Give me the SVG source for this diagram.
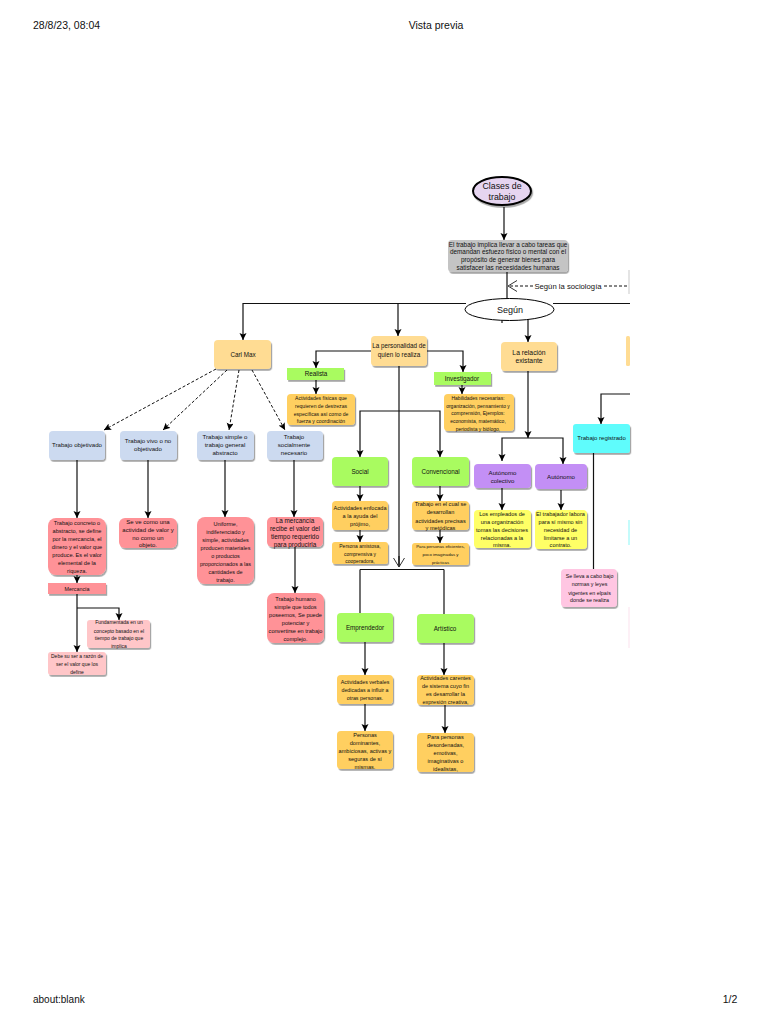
<svg xmlns="http://www.w3.org/2000/svg" width="768" height="1024" viewBox="0 0 768 1024">
<defs>
<filter id="sh" x="-20%" y="-20%" width="150%" height="150%"><feDropShadow dx="1.2" dy="1.8" stdDeviation="0.7" flood-color="#000" flood-opacity="0.35"/></filter>
<marker id="a" markerUnits="userSpaceOnUse" markerWidth="8" markerHeight="8" refX="7" refY="3.5" orient="auto"><path d="M0 0L7 3.500L0 7L1.500 3.500Z" fill="#000"/></marker>
<marker id="o" markerUnits="userSpaceOnUse" markerWidth="12" markerHeight="14" refX="10" refY="6" orient="auto"><path d="M1 0.500L10 6L1 11.500" fill="none" stroke="#333" stroke-width="1"/></marker>
</defs>
<style>
text{font-family:"Liberation Sans",Arial,sans-serif;fill:#111;text-anchor:middle}
.h{font-size:10.5px}.m{font-size:6.3px}.n{font-size:6.1px}.s{font-size:5.6px}.s5{font-size:5.1px}.xs{font-size:5px}.x4{font-size:4.3px}
.b{filter:url(#sh);stroke:none}
.or{fill:#ffdc93}.bl{fill:#ccdaf0}.re{fill:#ff9297}.pk{fill:#ffc6c8}.gr{fill:#a9fb60}.go{fill:#ffcf60}.pu{fill:#c38ff5}.ye{fill:#ffff66}.cy{fill:#5ffcfc}.mg{fill:#ffc6e2}.gy{fill:#c4c4c4}
#conn path{fill:none;stroke:#111;stroke-width:1.2;marker-end:url(#a)}
#conn path.p{marker-end:none}
#conn path.d{stroke-dasharray:3 2;stroke-width:1}
#conn path.op{marker-end:url(#o)}
</style>
<rect width="768" height="1024" fill="#fff"/>
<text class="h" x="33" y="29" style="text-anchor:start">28/8/23, 08:04</text>
<text class="h" x="436" y="29">Vista previa</text>
<text class="h" x="33" y="1003" style="text-anchor:start;font-size:10px">about:blank</text>
<text class="h" x="730" y="1003">1/2</text>
<g id="conn">
<path d="M504 207V240"/>
<path class="p" d="M507 272V299"/>
<path class="d op" d="M533 286H508"/>
<path class="d p" d="M604 286H628"/>
<path class="p" d="M553 303.500H630"/>
<path d="M466 303.500H243V340"/>
<path d="M398 303.500V336"/>
<path d="M528 319V342"/>
<path class="p" d="M502 320V323"/>
<path d="M371 351H316V368"/>
<path d="M427 351H463V372"/>
<path d="M316 380V394"/>
<path d="M462 385V394"/>
<path class="p" d="M399 366V566"/>
<path class="op" d="M399 556V567"/>
<path d="M399 411H360V457"/>
<path d="M399 411H440V457"/>
<path class="p" d="M360 569.500H444"/>
<path class="p" d="M360 569.500V613"/>
<path class="p" d="M444 569.500V614"/>
<path d="M360 486V501"/>
<path d="M360 530V542"/>
<path d="M440 486V501"/>
<path d="M440 530V543"/>
<path d="M365 642V675"/>
<path d="M365 704V731"/>
<path d="M444 643V675"/>
<path d="M445 705V733"/>
<path d="M528 371V438"/>
<path d="M528 438H502V461"/>
<path d="M528 438H563V464"/>
<path d="M502 488V510"/>
<path d="M561 490V510"/>
<path d="M630 394H601V424"/>
<path class="p" d="M593.500 453V569"/>
<path class="d" d="M216 369L104 430"/>
<path class="d" d="M227 370L163 430"/>
<path class="d" d="M239 370L229 430"/>
<path class="d" d="M252 370L285 430"/>
<path d="M77 460V518"/>
<path d="M148 460V518"/>
<path d="M225 460V517"/>
<path d="M294 460V517"/>
<path d="M77 575V583"/>
<path class="p" d="M77 594V608"/>
<path d="M77 608H119V620"/>
<path d="M77 608V652"/>
<path d="M295 547V593"/>
</g>
<g id="n-clases"><ellipse cx="502" cy="191" rx="29" ry="14" fill="#e6d5f0" stroke="#000" stroke-width="2" style="filter:url(#sh)"/><text x="502" y="189" style="font-size:8.8px">Clases de</text><text x="502" y="200" style="font-size:8.8px">trabajo</text></g>
<g id="n-intro"><rect class="b gy" x="448" y="240" width="120" height="32" rx="4"/><text x="508" y="246.500" style="font-size:6.4px">El trabajo implica llevar a cabo tareas que</text><text x="508" y="254" style="font-size:6.4px">demandan esfuezo físico o mental con el</text><text x="508" y="261.500" style="font-size:6.4px">propósito de generar bienes para</text><text x="508" y="269.500" style="font-size:6.4px">satisfacer las necesidades humanas</text></g>
<g id="l-soc"><text x="568" y="289" style="font-size:7.7px">Según la sociología</text></g>
<g id="n-segun"><ellipse cx="509.500" cy="309.500" rx="44.500" ry="11" fill="#fff" stroke="#000" stroke-width="1"/><text x="510" y="312.700" style="font-size:9px">Según</text></g>
<g id="n-carl"><rect class="b or" x="214" y="340" width="57" height="29" rx="4"/><text class="m" x="243" y="356.500">Carl Max</text></g>
<g id="n-pers"><rect class="b or" x="371" y="336" width="56" height="30" rx="4"/><text class="m" x="399" y="348">La personalidad de</text><text class="m" x="399" y="357">quien lo realiza</text></g>
<g id="n-rel"><rect class="b or" x="501" y="342" width="56" height="29" rx="4"/><text x="529" y="354.500" style="font-size:6.8px">La relación</text><text x="529" y="362.500" style="font-size:6.8px">existante</text></g>
<g id="n-edge0"><rect x="628" y="270" width="2" height="24" fill="#e4e4e4"/></g>
<g id="n-edge1"><rect class="or" x="626" y="336" width="4" height="30" rx="1.500"/></g>
<g id="n-realista"><rect class="b gr" x="287" y="368" width="57" height="12"/><text class="m" x="316" y="376">Realista</text></g>
<g id="n-inv"><rect class="b gr" x="434" y="372" width="57" height="13"/><text class="m" x="462" y="381">Investigador</text></g>
<g id="n-afis"><rect class="b go" x="287" y="394" width="68" height="31" rx="4"/><text class="s5" x="321" y="400">Actividades físicas que</text><text class="s5" x="321" y="408">requieren de destrezas</text><text class="s5" x="321" y="416">específicas así como de</text><text class="s5" x="321" y="423">fuerza y coordinación</text></g>
<g id="n-hab"><rect class="b go" x="444" y="394" width="70" height="37" rx="4"/><text class="xs" x="478" y="399.500">Habilidades necesarias:</text><text class="xs" x="478" y="407.500">organización, pensamiento y</text><text class="xs" x="478" y="415.300">comprensión, Ejemplos:</text><text class="xs" x="478" y="423.200">economista, matemático,</text><text class="xs" x="478" y="431">periodista y biólogo,</text></g>
<g id="n-t1"><rect class="b bl" x="49" y="431" width="56" height="29" rx="4"/><text class="n" x="77" y="447">Trabajo objetivado</text></g>
<g id="n-t2"><rect class="b bl" x="120" y="431" width="57" height="29" rx="4"/><text class="n" x="148" y="443">Trabajo vivo o no</text><text class="n" x="148" y="451">objetivado</text></g>
<g id="n-t3"><rect class="b bl" x="197" y="431" width="57" height="29" rx="4"/><text class="n" x="225" y="438.500">Trabajo simple o</text><text class="n" x="225" y="447">trabajo general</text><text class="n" x="225" y="455">abstracto</text></g>
<g id="n-t4"><rect class="b bl" x="267" y="431" width="56" height="29" rx="4"/><text class="n" x="294" y="439">Trabajo</text><text class="n" x="294" y="447">socialmente</text><text class="n" x="294" y="455">necesario</text></g>
<g id="n-social"><rect class="b gr" x="332" y="457" width="56" height="29" rx="4"/><text class="m" x="360" y="473.500">Social</text></g>
<g id="n-conv"><rect class="b gr" x="412" y="457" width="57" height="29" rx="4"/><text class="m" x="440.500" y="473.500">Convencional</text></g>
<g id="n-colec"><rect class="b pu" x="474" y="464" width="57" height="24" rx="4"/><text class="n" x="502.500" y="474.500">Autónomo</text><text class="n" x="502.500" y="482.500">colectivo</text></g>
<g id="n-auto"><rect class="b pu" x="535" y="464" width="52" height="25" rx="4"/><text class="n" x="561" y="478.500">Autónomo</text></g>
<g id="n-reg"><rect class="b cy" x="573" y="424" width="57" height="29" rx="3"/><text x="601.500" y="440" style="font-size:6px">Trabajo registrado</text></g>
<g id="n-edge2"><rect x="628" y="520" width="2" height="25" fill="#c4fbfb"/></g>
<g id="n-actsoc"><rect class="b go" x="332" y="501" width="56" height="29" rx="4"/><text class="s" x="360" y="510">Actividades enfocada</text><text class="s" x="360" y="518">a la ayuda del</text><text class="s" x="360" y="526">prójimo,</text></g>
<g id="n-perss"><rect class="b go" x="332" y="542" width="56" height="22" rx="3"/><text class="xs" x="360" y="548">Persona amistosa,</text><text class="xs" x="360" y="555.500">comprensiva y</text><text class="xs" x="360" y="563">cooperadora,</text></g>
<g id="n-tcon"><rect class="b go" x="412" y="501" width="57" height="29" rx="4"/><text class="s" x="440.500" y="506">Trabajo en el cual se</text><text class="s" x="440.500" y="514">desarrollan</text><text class="s" x="440.500" y="523">actividades precisas</text><text class="s" x="440.500" y="530">y metódicas</text></g>
<g id="n-pcon"><rect class="b go" x="412" y="543" width="57" height="22" rx="3"/><text class="x4" x="440.500" y="548">Para personas eficientes,</text><text class="x4" x="440.500" y="556">poco imaginadas y</text><text class="x4" x="440.500" y="564">prácticas</text></g>
<g id="n-emple"><rect class="b ye" x="474" y="510" width="57" height="38" rx="4"/><text class="s" x="502" y="516">Los empleados de</text><text class="s" x="502" y="524">una organización</text><text class="s" x="502" y="532">tomas las decisiones</text><text class="s" x="502" y="539.500">relacionadas a la</text><text class="s" x="502" y="547">misma.</text></g>
<g id="n-trab"><rect class="b ye" x="535" y="510" width="52" height="39" rx="4"/><text class="s" x="560.500" y="516">El trabajador labora</text><text class="s" x="560.500" y="524">para sí mismo sin</text><text class="s" x="560.500" y="532">necesidad de</text><text class="s" x="560.500" y="539.500">limitarse a un</text><text class="s" x="560.500" y="547">contrato.</text></g>
<g id="n-normas"><rect class="b mg" x="561" y="569" width="56" height="38" rx="4"/><text class="s" x="589.500" y="578" style="font-size:5.3px">Se lleva a cabo bajo</text><text class="s" x="589.500" y="586" style="font-size:5.3px">normas y leyes</text><text class="s" x="589.500" y="595" style="font-size:5.3px">vigentes en elpaís</text><text class="s" x="589.500" y="602" style="font-size:5.3px">donde se realiza</text></g>
<g id="n-edge3"><rect x="628" y="607" width="2" height="41" fill="#fdf0f6"/></g>
<g id="n-r1"><rect class="b re" x="48" y="518" width="58" height="57" rx="8"/><text class="s" x="77" y="525">Trabajo concreto o</text><text class="s" x="77" y="533">abstracto, se define</text><text class="s" x="77" y="541">por la mercancía, el</text><text class="s" x="77" y="549">dinero y el valor que</text><text class="s" x="77" y="557">produce. Es el valor</text><text class="s" x="77" y="565">elemental de la</text><text class="s" x="77" y="573">riqueza.</text></g>
<g id="n-merc"><rect class="b re" x="48" y="583" width="58" height="11"/><text x="77" y="591" style="font-size:5.4px">Mercancía</text></g>
<g id="n-fund"><rect class="b pk" x="87" y="620" width="63" height="28" rx="3"/><text class="xs" x="119" y="624">Fundamentada en un</text><text class="xs" x="119" y="632.500">concepto basado en el</text><text class="xs" x="119" y="640">tiempo de trabajo que</text><text class="xs" x="119" y="648">implica</text></g>
<g id="n-debe"><rect class="b pk" x="48" y="652" width="58" height="23" rx="3"/><text class="xs" x="77" y="658">Debe su ser a razón de</text><text class="xs" x="77" y="666">ser el valor que los</text><text class="xs" x="77" y="674">define</text></g>
<g id="n-r2"><rect class="b re" x="119" y="518" width="58" height="30" rx="6"/><text x="148" y="523.500" style="font-size:6px">Se ve como una</text><text x="148" y="532" style="font-size:6px">actividad de valor y</text><text x="148" y="539.500" style="font-size:6px">no como un</text><text x="148" y="547" style="font-size:6px">objeto.</text></g>
<g id="n-r3"><rect class="b re" x="197" y="517" width="57" height="67" rx="8"/><text class="s5" x="225.500" y="526" style="font-size:5.5px">Uniforme,</text><text class="s5" x="225.500" y="534" style="font-size:5.5px">indiferenciado y</text><text class="s5" x="225.500" y="542" style="font-size:5.5px">simple, actividades</text><text class="s5" x="225.500" y="550" style="font-size:5.5px">producen materiales</text><text class="s5" x="225.500" y="558" style="font-size:5.5px">o productos</text><text class="s5" x="225.500" y="565.500" style="font-size:5.5px">proporcionados a las</text><text class="s5" x="225.500" y="574" style="font-size:5.5px">cantidades de</text><text class="s5" x="225.500" y="582" style="font-size:5.5px">trabajo.</text></g>
<g id="n-r4"><rect class="b re" x="267" y="517" width="56" height="30" rx="5"/><text x="295" y="523" style="font-size:6.4px">La mercancía</text><text x="295" y="531" style="font-size:6.4px">recibe el valor del</text><text x="295" y="539" style="font-size:6.4px">tiempo requerido</text><text x="295" y="546.500" style="font-size:6.4px">para producirla</text></g>
<g id="n-r5"><rect class="b re" x="267" y="593" width="57" height="50" rx="7"/><text class="s" x="295.500" y="601">Trabajo humano</text><text class="s" x="295.500" y="609">simple que todos</text><text class="s" x="295.500" y="617">poseemos, Se puede</text><text class="s" x="295.500" y="624.500">potenciar y</text><text class="s" x="295.500" y="632.500">convertirse en trabajo</text><text class="s" x="295.500" y="640.500">complejo.</text></g>
<g id="n-empr"><rect class="b gr" x="337" y="613" width="56" height="29" rx="4"/><text class="m" x="365" y="630">Emprendedor</text></g>
<g id="n-art"><rect class="b gr" x="417" y="614" width="57" height="29" rx="4"/><text class="m" x="445" y="631">Artístico</text></g>
<g id="n-aver"><rect class="b go" x="337" y="675" width="56" height="29" rx="4"/><text class="s5" x="365" y="684" style="font-size:5.3px">Actividades verbales</text><text class="s5" x="365" y="692" style="font-size:5.3px">dedicadas a influir a</text><text class="s5" x="365" y="700" style="font-size:5.3px">otras personas.</text></g>
<g id="n-pdom"><rect class="b go" x="337" y="731" width="56" height="38" rx="4"/><text class="s" x="365" y="737">Personas</text><text class="s" x="365" y="745">dominantes,</text><text class="s" x="365" y="753">ambiciosas, activas y</text><text class="s" x="365" y="761">seguras de sí</text><text class="s" x="365" y="769">mismas.</text></g>
<g id="n-acar"><rect class="b go" x="417" y="675" width="57" height="30" rx="4"/><text class="s" x="445.500" y="680" style="font-size:5.5px">Actividades carentes</text><text class="s" x="445.500" y="688" style="font-size:5.5px">de sistema cuyo fin</text><text class="s" x="445.500" y="696" style="font-size:5.5px">es desarrollar la</text><text class="s" x="445.500" y="704" style="font-size:5.5px">expresión creativa,</text></g>
<g id="n-pdes"><rect class="b go" x="417" y="733" width="57" height="39" rx="4"/><text class="s" x="445.500" y="739">Para personas</text><text class="s" x="445.500" y="747">desordenadas,</text><text class="s" x="445.500" y="755">emotivas,</text><text class="s" x="445.500" y="762.500">imaginativas o</text><text class="s" x="445.500" y="770.500">idealistas,</text></g>
</svg>
